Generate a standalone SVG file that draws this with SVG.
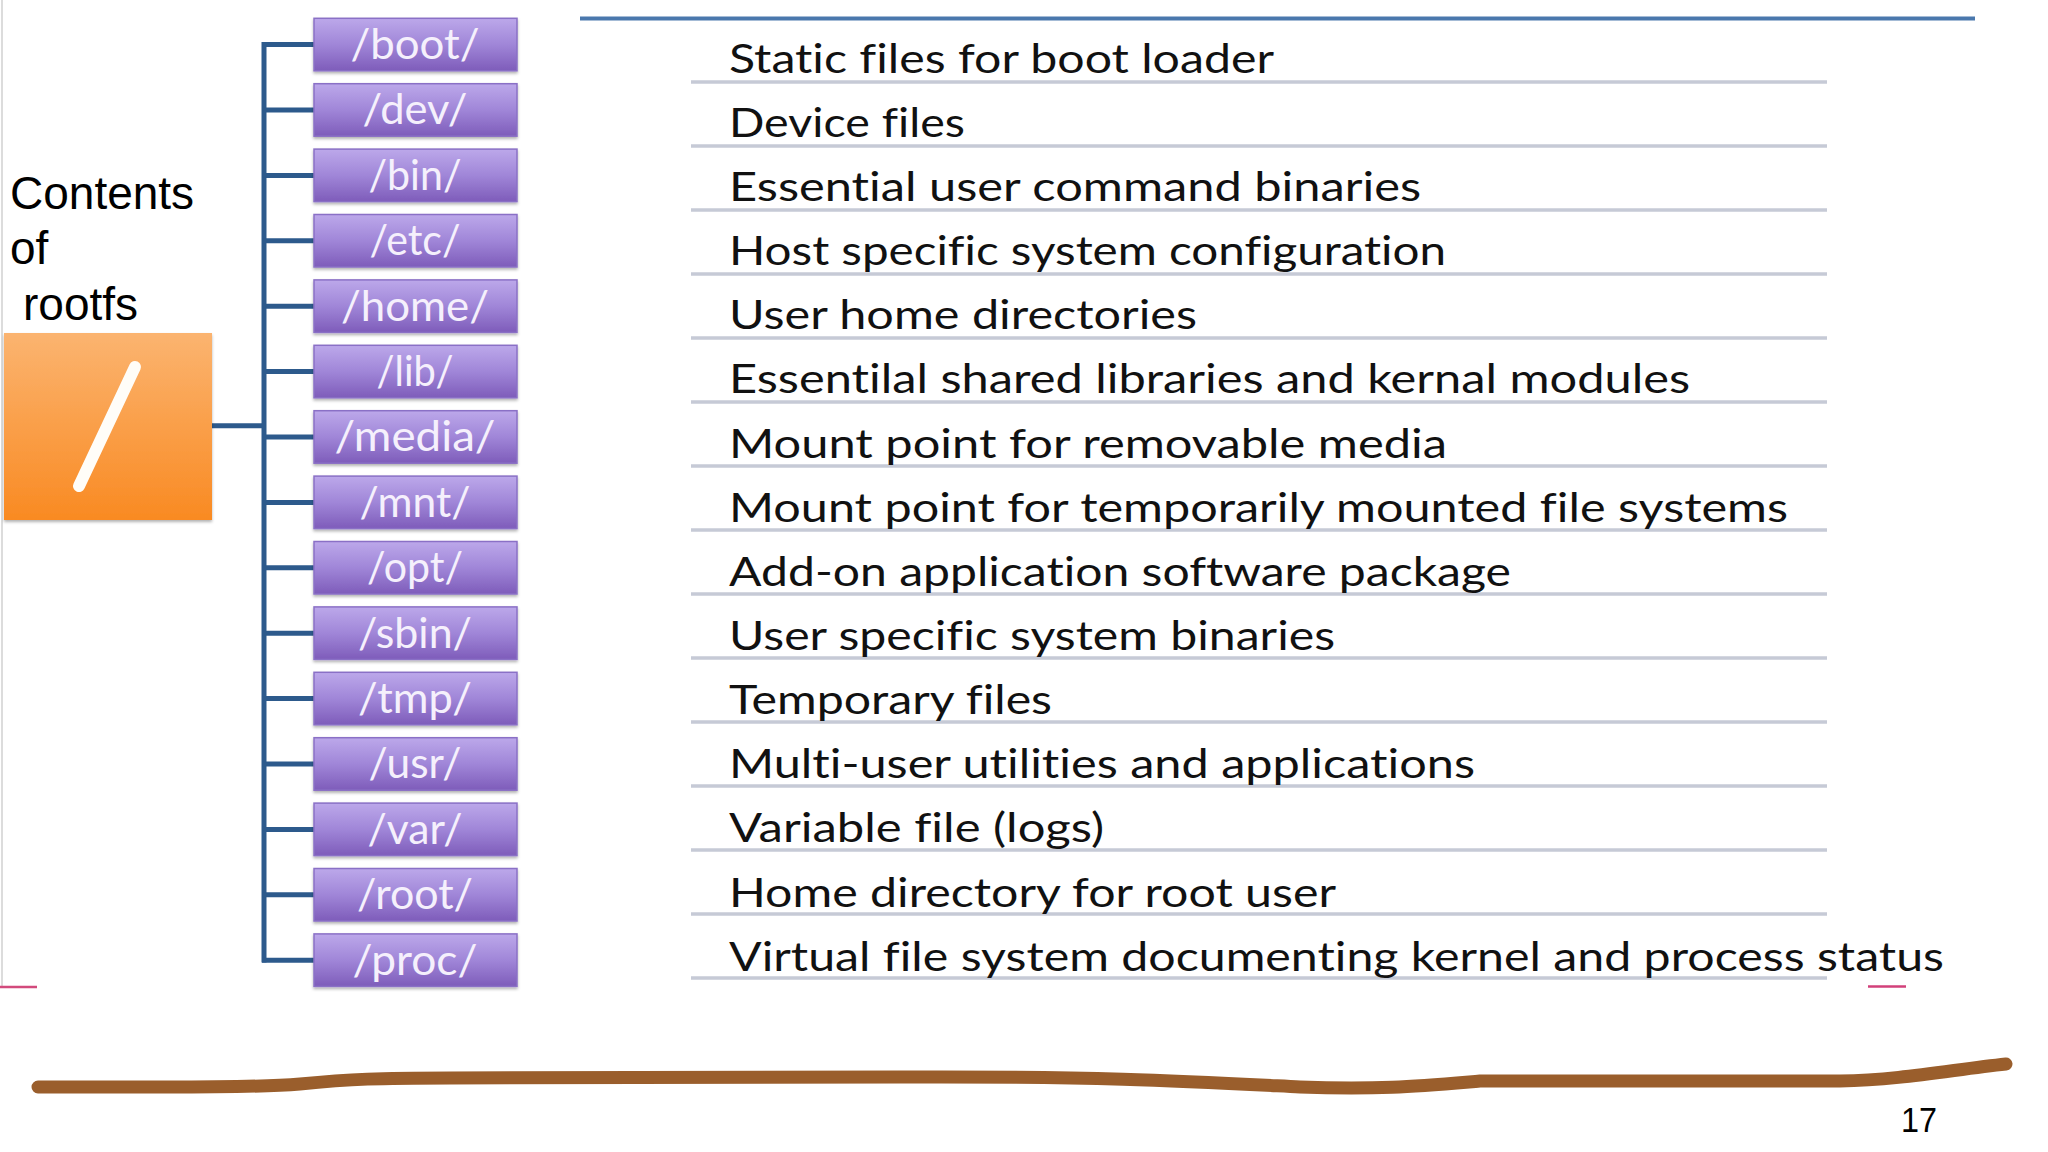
<svg xmlns="http://www.w3.org/2000/svg" width="2048" height="1152" viewBox="0 0 2048 1152">
  <defs>
    <linearGradient id="gPurple" x1="0" y1="0" x2="0" y2="1">
      <stop offset="0" stop-color="#bca8ea"/>
      <stop offset="0.5" stop-color="#a086d8"/>
      <stop offset="1" stop-color="#7e5cba"/>
    </linearGradient>
    <linearGradient id="gOrange" x1="0" y1="0" x2="0" y2="1">
      <stop offset="0" stop-color="#fbb470"/>
      <stop offset="1" stop-color="#f98a22"/>
    </linearGradient>
    <filter id="shadow" x="-10%" y="-20%" width="120%" height="150%">
      <feDropShadow dx="0" dy="2" stdDeviation="1.5" flood-color="#000" flood-opacity="0.3"/>
    </filter>
    <style>
      .box { fill: url(#gPurple); stroke: #8a70c6; stroke-width: 1.5; filter: url(#shadow); }
      .lbl { font-family: Lato, "Open Sans", sans-serif; font-size: 43px; fill: #f5f0fc; text-anchor: middle; font-variant-ligatures: none; }
      .desc { font-family: Lato, "Open Sans", sans-serif; font-size: 40px; fill: #111111; font-variant-ligatures: none; }
      .sep { stroke: #c6cad6; stroke-width: 3.5; }
      .tree { stroke: #2d5a8c; stroke-width: 5; fill: none; }
      .title { font-family: "Liberation Sans", Arial, sans-serif; font-size: 46px; fill: #000000; }
    </style>
  </defs>
  <rect x="0" y="0" width="2048" height="1152" fill="#ffffff"/>
  <line x1="2" y1="0" x2="2" y2="986" stroke="#dcdcdc" stroke-width="2"/>
  <line x1="0" y1="987" x2="37" y2="987" stroke="#d24a7c" stroke-width="2.5"/>

  <!-- top blue rule -->
  <line x1="580" y1="18.5" x2="1975" y2="18.5" stroke="#4a78ad" stroke-width="4"/>

  <!-- title -->
  <g id="title">
    <text class="title" x="10" y="209">Contents</text>
    <text class="title" x="10" y="264">of</text>
    <text class="title" x="23" y="320">rootfs</text>
  </g>

  <!-- connectors -->
  <g id="connectors">
    <line class="tree" x1="212" y1="425.7" x2="266" y2="425.7" stroke-width="6"/>
    <line class="tree" x1="264" y1="42" x2="264" y2="962.5"/>
    <line class="tree" x1="262" y1="44.6" x2="314" y2="44.6"/>
    <line class="tree" x1="262" y1="110" x2="314" y2="110"/>
    <line class="tree" x1="262" y1="175.4" x2="314" y2="175.4"/>
    <line class="tree" x1="262" y1="240.8" x2="314" y2="240.8"/>
    <line class="tree" x1="262" y1="306.2" x2="314" y2="306.2"/>
    <line class="tree" x1="262" y1="371.6" x2="314" y2="371.6"/>
    <line class="tree" x1="262" y1="437" x2="314" y2="437"/>
    <line class="tree" x1="262" y1="502.4" x2="314" y2="502.4"/>
    <line class="tree" x1="262" y1="567.8" x2="314" y2="567.8"/>
    <line class="tree" x1="262" y1="633.2" x2="314" y2="633.2"/>
    <line class="tree" x1="262" y1="698.6" x2="314" y2="698.6"/>
    <line class="tree" x1="262" y1="764" x2="314" y2="764"/>
    <line class="tree" x1="262" y1="829.4" x2="314" y2="829.4"/>
    <line class="tree" x1="262" y1="894.8" x2="314" y2="894.8"/>
    <line class="tree" x1="262" y1="960.2" x2="314" y2="960.2"/>
  </g>

  <!-- root node -->
  <g id="root">
    <rect x="4" y="333" width="208" height="187" fill="url(#gOrange)" filter="url(#shadow)"/>
    <line x1="135" y1="367" x2="79" y2="486" stroke="#fffdf8" stroke-width="12" stroke-linecap="round"/>
  </g>

  <!-- directory nodes -->
  <g id="n-boot"><rect class="box" x="314" y="18.3" width="203" height="52.5"/><text class="lbl" x="415" y="59" textLength="129" lengthAdjust="spacingAndGlyphs">/boot/</text></g>
  <g id="n-dev"><rect class="box" x="314" y="83.7" width="203" height="52.5"/><text class="lbl" x="415" y="124.4" textLength="105" lengthAdjust="spacingAndGlyphs">/dev/</text></g>
  <g id="n-bin"><rect class="box" x="314" y="149.1" width="203" height="52.5"/><text class="lbl" x="415" y="189.8" textLength="93" lengthAdjust="spacingAndGlyphs">/bin/</text></g>
  <g id="n-etc"><rect class="box" x="314" y="214.5" width="203" height="52.5"/><text class="lbl" x="415" y="255.2" textLength="91" lengthAdjust="spacingAndGlyphs">/etc/</text></g>
  <g id="n-home"><rect class="box" x="314" y="279.9" width="203" height="52.5"/><text class="lbl" x="415" y="320.6" textLength="148" lengthAdjust="spacingAndGlyphs">/home/</text></g>
  <g id="n-lib"><rect class="box" x="314" y="345.3" width="203" height="52.5"/><text class="lbl" x="415" y="386" textLength="77" lengthAdjust="spacingAndGlyphs">/lib/</text></g>
  <g id="n-media"><rect class="box" x="314" y="410.7" width="203" height="52.5"/><text class="lbl" x="415" y="451.4" textLength="161" lengthAdjust="spacingAndGlyphs">/media/</text></g>
  <g id="n-mnt"><rect class="box" x="314" y="476.1" width="203" height="52.5"/><text class="lbl" x="415" y="516.8" textLength="111" lengthAdjust="spacingAndGlyphs">/mnt/</text></g>
  <g id="n-opt"><rect class="box" x="314" y="541.5" width="203" height="52.5"/><text class="lbl" x="415" y="582.2" textLength="96" lengthAdjust="spacingAndGlyphs">/opt/</text></g>
  <g id="n-sbin"><rect class="box" x="314" y="606.9" width="203" height="52.5"/><text class="lbl" x="415" y="647.6" textLength="114" lengthAdjust="spacingAndGlyphs">/sbin/</text></g>
  <g id="n-tmp"><rect class="box" x="314" y="672.3" width="203" height="52.5"/><text class="lbl" x="415" y="713" textLength="114" lengthAdjust="spacingAndGlyphs">/tmp/</text></g>
  <g id="n-usr"><rect class="box" x="314" y="737.7" width="203" height="52.5"/><text class="lbl" x="415" y="778.4" textLength="93" lengthAdjust="spacingAndGlyphs">/usr/</text></g>
  <g id="n-var"><rect class="box" x="314" y="803.1" width="203" height="52.5"/><text class="lbl" x="415" y="843.8" textLength="95" lengthAdjust="spacingAndGlyphs">/var/</text></g>
  <g id="n-root"><rect class="box" x="314" y="868.5" width="203" height="52.5"/><text class="lbl" x="415" y="909.2" textLength="116" lengthAdjust="spacingAndGlyphs">/root/</text></g>
  <g id="n-proc"><rect class="box" x="314" y="933.9" width="203" height="52.5"/><text class="lbl" x="415" y="974.6" textLength="125" lengthAdjust="spacingAndGlyphs">/proc/</text></g>

  <!-- separators -->
  <g id="separators">
    <line class="sep" x1="691" y1="82" x2="1827" y2="82"/>
    <line class="sep" x1="691" y1="146" x2="1827" y2="146"/>
    <line class="sep" x1="691" y1="210" x2="1827" y2="210"/>
    <line class="sep" x1="691" y1="274" x2="1827" y2="274"/>
    <line class="sep" x1="691" y1="338" x2="1827" y2="338"/>
    <line class="sep" x1="691" y1="402" x2="1827" y2="402"/>
    <line class="sep" x1="691" y1="466" x2="1827" y2="466"/>
    <line class="sep" x1="691" y1="530" x2="1827" y2="530"/>
    <line class="sep" x1="691" y1="594" x2="1827" y2="594"/>
    <line class="sep" x1="691" y1="658" x2="1827" y2="658"/>
    <line class="sep" x1="691" y1="722" x2="1827" y2="722"/>
    <line class="sep" x1="691" y1="786" x2="1827" y2="786"/>
    <line class="sep" x1="691" y1="850" x2="1827" y2="850"/>
    <line class="sep" x1="691" y1="914" x2="1827" y2="914"/>
    <line class="sep" x1="691" y1="978" x2="1827" y2="978"/>
  </g>

  <!-- descriptions -->
  <g id="descriptions">
    <text class="desc" x="729" y="72.7" textLength="545" lengthAdjust="spacingAndGlyphs">Static files for boot loader</text>
    <text class="desc" x="729" y="136.8" textLength="236" lengthAdjust="spacingAndGlyphs">Device files</text>
    <text class="desc" x="729" y="201" textLength="692" lengthAdjust="spacingAndGlyphs">Essential user command binaries</text>
    <text class="desc" x="729" y="265.1" textLength="717" lengthAdjust="spacingAndGlyphs">Host specific system configuration</text>
    <text class="desc" x="729" y="329.3" textLength="468" lengthAdjust="spacingAndGlyphs">User home directories</text>
    <text class="desc" x="729" y="393.4" textLength="961" lengthAdjust="spacingAndGlyphs">Essentilal shared libraries and kernal modules</text>
    <text class="desc" x="729" y="457.5" textLength="718" lengthAdjust="spacingAndGlyphs">Mount point for removable media</text>
    <text class="desc" x="729" y="521.7" textLength="1059" lengthAdjust="spacingAndGlyphs">Mount point for temporarily mounted file systems</text>
    <text class="desc" x="729" y="585.8" textLength="782" lengthAdjust="spacingAndGlyphs">Add-on application software package</text>
    <text class="desc" x="729" y="650" textLength="606" lengthAdjust="spacingAndGlyphs">User specific system binaries</text>
    <text class="desc" x="729" y="714.1" textLength="323" lengthAdjust="spacingAndGlyphs">Temporary files</text>
    <text class="desc" x="729" y="778.2" textLength="746" lengthAdjust="spacingAndGlyphs">Multi-user utilities and applications</text>
    <text class="desc" x="729" y="842.4" textLength="375" lengthAdjust="spacingAndGlyphs">Variable file (logs)</text>
    <text class="desc" x="729" y="906.5" textLength="607" lengthAdjust="spacingAndGlyphs">Home directory for root user</text>
    <text class="desc" x="729" y="970.7" textLength="1215" lengthAdjust="spacingAndGlyphs">Virtual file system documenting kernel and process status</text>
  </g>
  <line x1="1868" y1="986.5" x2="1906" y2="986.5" stroke="#d2407a" stroke-width="2.5"/>

  <!-- hand-drawn stroke -->
  <path d="M38,1087 C150,1087 250,1088 300,1084 C350,1079 380,1078 450,1078 L900,1077 C1100,1076 1200,1082 1300,1087 C1380,1090 1420,1086 1480,1081 L1840,1081 C1900,1080 1950,1070 2006,1064" fill="none" stroke="#9a5e2c" stroke-width="13" stroke-linecap="round" stroke-linejoin="round"/>

  <text x="1901" y="1132" font-family="Liberation Sans, Arial, sans-serif" font-size="35" fill="#000000" textLength="36" lengthAdjust="spacingAndGlyphs">17</text>
</svg>
